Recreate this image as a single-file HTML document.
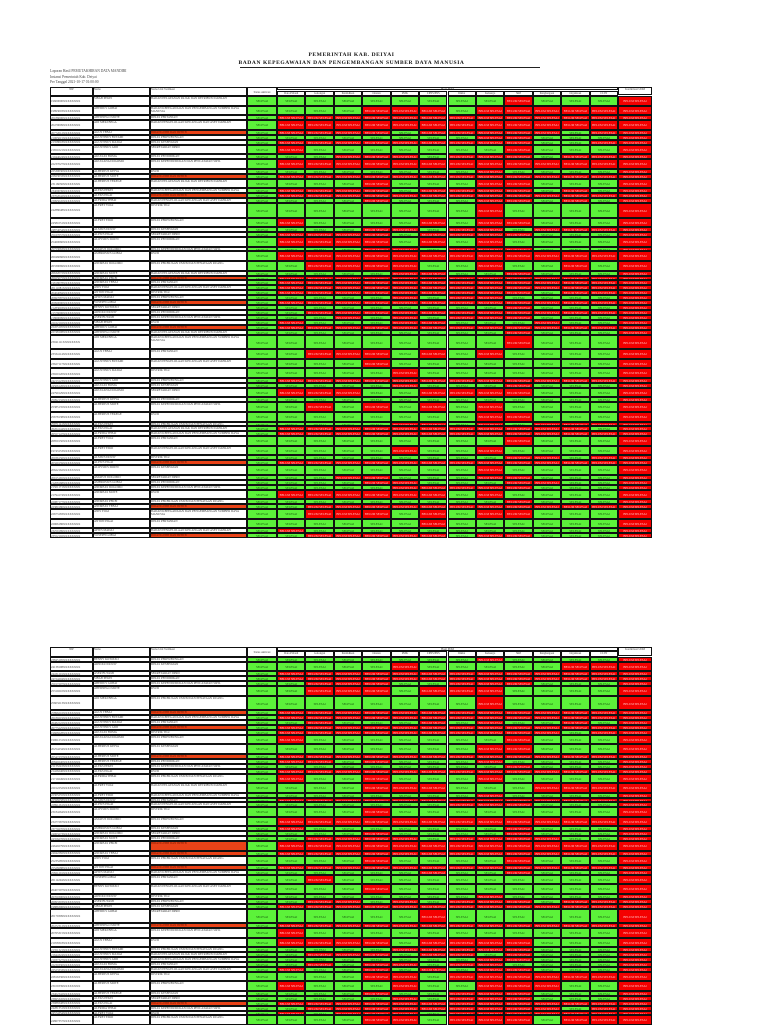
<!DOCTYPE html>
<html><head><meta charset="utf-8">
<style>
html,body{margin:0;padding:0;background:#fff;}
body{width:768px;height:1024px;overflow:hidden;position:relative;font-family:"Liberation Serif",serif;}
.a{position:absolute;box-sizing:border-box;}
.c{position:absolute;box-sizing:border-box;border:0.8px solid #111;overflow:hidden;font-size:3px;line-height:3.4px;color:#333;white-space:nowrap;}
.g{background:#5cf23a;color:#1a5a10;text-align:center;}
.r{background:#f40000;color:#ffc0c0;text-align:center;}
.o{background:#ea4318;color:#7a1a00;}
.w{background:#fff;color:#444;}
.h{background:#fff;text-align:center;font-size:2.8px;color:#444;}
.t{position:absolute;white-space:nowrap;}
</style></head>
<body>
<div class="t" style="left:0;width:703px;top:52px;text-align:center;font-weight:bold;font-size:5.5px;letter-spacing:0.6px;color:#111;">PEMERINTAH KAB. DEIYAI</div>
<div class="t" style="left:0;width:703px;top:60px;text-align:center;font-weight:bold;font-size:5.5px;letter-spacing:0.6px;color:#111;">BADAN KEPEGAWAIAN DAN PENGEMBANGAN SUMBER DAYA MANUSIA</div>
<div class="a" style="left:240px;top:67px;width:300px;height:0.7px;background:#222;"></div>
<div class="t" style="left:50px;top:69px;font-size:3.6px;color:#444;">Laporan Hasil PEMUTAKHIRAN DATA MANDIRI</div>
<div class="t" style="left:50px;top:74.5px;font-size:3.6px;color:#444;">Instansi Pemerintah Kab. Deiyai</div>
<div class="t" style="left:50px;top:80px;font-size:3.6px;color:#444;">Per Tanggal 2021-10-17 01:00:00</div>
<div id="root"></div>
<script>
const pdmCols = ["Data Pribadi","Golongan","Pendidikan","Jabatan","PMK","CPNS/PNS","Diklat","Keluarga","SKP","Penghargaan","Organisasi","CLTN"];
const rowLines1 = [2,2,1,2,1,1,1,2,1,2,1,1,2,1,1,1,3,2,1,1,2,1,2,2,1, 1,1,1,1,1,1,1,1,1,1,1,1, 3,2,2,2,1,1,2,1,2,2,1,1,1,2,2,1,1,2,1,1,1,2,1,1,2,2,1,1];
const rowStatus1 = ["GGGGGGGGRGGG","GGGRRRGRRRRR","RRRRRRRRRRRR","RRRRRRRRRRRR","RRRRGRRRRRGR","GGGGGGGRRGGG","RRRRRRRRRGGR","RGGGGGGGRGGG","GGRRRGRRRGRR","RRRRRRRRRRRR","GGGGGGGRGGGG","RRRRRRRRRRRR","GGGRGGGRRGGG","RRRRGRRRRGRG","RRRRRRRRRRRR","GGGRGGGRRGRG","GGGGGGGRGGGG","RGGGGRGRRGGG","GGGRRGRRGRRR","RRRRGRRRRGGG","RRRRGRGRGGGG","GGGRRGRRRGGG","RRRRRRRRRRRR","GRRRRGGRGGRG","GGGGRRGGRGGG","RRRRRRRRRRRR","RRRRRRRRRRRR","RRRRRRRRRRRR","RRRRRRRRRGRR","GGGGRGRRGGGG","RRRRRRRRRRRR","GGGGGGGGRGGG","GRRRRRRRRRRR","GGRGRGRRRGGG","RGGGRRGGGRGG","RRRRRRRRRRRR","GGGGGGGGRGGG","GGGGGGGGRGGG","GRRRGRGRGGGG","GGGRGGGGGGGG","GGGGRGGGGGGG","RRRRRRRRRRRR","GGGGRGGGRGGG","RRRGGRRRRGGG","GGGGGGGGGGGG","GRGRGRGRGGGG","GGGGGGGRRGGG","GGGGRRGRGRRR","RRRRRRRRRRRG","RRRRRRRRRRRR","GGGGGGGGRGGG","GGGGRGGRGGGG","GGGGGGGGRRGR","RRRRRRRRRRRR","GGGGGGGRGGGG","GGRRGGGRRGGG","GGGRRGGGRRGG","GGGGRRRRRGGG","RRRRRRGRGGGG","GGGGGGGGRGGG","GRRRRRRRRRRR","GRRRGRGRRGGG","GGGGGRGGGGGG","RGGGGGGGGGGG","GRRRRRGRRGGG"];
const orange1 = [4,11,14,25,30,35,53,60,64];
const rowLines2 = [1,2,1,1,1,2,3,1,1,1,1,1,2,2,1,1,1,1,2,2,1,1,1,2,2,1,1,1,2,1,2,1,1,2,2,1,1,1,3,1,2,2,1,1,1,1,1,2,2,1,1,1,1,1,2];
const rowStatus2 = ["GGGGGGGRGGGG","GGGGRGGGGGRR","RRRRRRRRRRRR","RRRRRRRRRRRR","GRRRGGRRRGGG","GRRRGRRRGGGG","GGGGGGGRGGGG","RRRRRRRRRRRR","RRRRRRRRRRRR","GRGGGRGRGGRG","RRRRRRRRRRRR","RRRRRRRRRRGR","RGGGGGGGRGGG","GGGGGGGRRGGG","RRRRRRRRRRRR","RRGRGGGRGGGG","GGGGGGGGRGGG","RRRRRRRRRRRR","RGGRGGGRGGGG","GGGRRRGGGRRR","GGGGGGGRGGGG","RRRRRRRRRRRR","GGGGGGRRRGGG","GGGRGGGGGGGG","RRRRRRRRRRRR","RGGGGGGGRGGG","GGGRGGGGRGGG","GRRRRGRRRRGG","RRRRRRRRRRRR","RRRRRRRRRRRR","GGGRGGGGRGGG","RRRRRRRRRRRR","GGGGGRGGRGGG","GRGGGGGGGGGG","GGGRGGGGGGGG","GGGGGGGRGGGG","GRRGRGRRRGRR","RRRRRRRRRRRR","GGGGGRGGGGGG","RRRRRRRRRRRR","RGGGGGGGGGGG","RRRRGRRRRGGG","GGGGRRRRRGGG","GRRRGRRGRGGG","GGGGGGGRRGGG","GRGRRGRRGGGG","RGGRGRGRRGGG","GGGRRGRRRRRR","RGGGRGGRRRGG","GGGRGGRRRGGG","GGGGRGRRRGGG","RRRRRRRRRRRR","GRRRRRRRRRGR","RGRRRGRRRRRR","GGGRRGRRRGRR"];
const orange2 = [7,10,14,28,29,31,39,51];
const names = ["SIBAB PEKEI","ABEDIUS GOBAI","ABEDNEGO MOTE","ADI MEKI BEGA","AGUS TEBAI","AGUSTINUS BUTAMI","AGUSTINUS MADAI","AGUSTINUS ADII","AKULIAS BOMA","AKULIANA DOGOMO","ALBERTUS KEIYA","ALBERTUS MOTE","ALBERTUS TEKEGE","ALEKS PEKEI","ALEKS PIGAI","ALFRIDA TEBAI","ALFRET YOGI","ALFRET EDOI","ALMIUS DOUW","ALPIUS PIGAI","ALOYSIUS DOUW","AMATUS DOGOMO","AMBROSIUS GOBAI","ANDREAS DOGOMO","ANDREAS MOTE","ANDREAS PEKEI","ANDREAS TEBAI","ANIS YOGI","ANTON PIGAI","APIUS MADAI","YOSEPH GOBAI","BENNY KOTOUKI","ARNOLD DOUW","ASER BUTAMI"];
const units = ["BADAN PELAYANAN PAJAK DAN RETRIBUSI DAERAH","BADAN KEPEGAWAIAN DAN PENGEMBANGAN SUMBER DAYA MANUSIA","DINAS PERTANIAN","BADAN PENGELOLAAN KEUANGAN DAN ASET DAERAH","DISTRIK TIGI","DINAS PERHUBUNGAN","DINAS KESEHATAN","SEKRETARIAT DPRD","DINAS PENDIDIKAN","DINAS KEPENDUDUKAN DAN PENCATATAN SIPIL","RSUD","DINAS PEKERJAAN UMUM DAN PENATAAN RUANG"];
const root = document.getElementById('root');
const colX = [50,93,150,247,277];
const pdmW = (618-277)/12;
for(let i=0;i<12;i++) colX.push(277+pdmW*(i+1));
colX.push(652);
function box(x,y,w,h,cls,text){
  const d=document.createElement('div');
  d.className='c '+cls;
  d.style.left=x+'px';d.style.top=y+'px';d.style.width=w+'px';d.style.height=h+'px';
  if(text) d.textContent=text;
  root.appendChild(d);
  return d;
}
function header(top,h){
  const hh=h;
  let d=box(colX[0],top,colX[1]-colX[0],hh,'h','NIP');
  
  
  d=box(colX[1],top,colX[2]-colX[1],hh,'h','Nama');
  d.style.textAlign='left';
  
  
  d=box(colX[2],top,colX[3]-colX[2],hh,'h','Nama Unit Verifikasi');
  d.style.textAlign='left';
  
  
  d=box(colX[3],top,colX[4]-colX[3],hh,'h','Status Aktivasi');
  d.style.lineHeight=hh+'px';
  
  
  d=box(colX[4],top,colX[16]-colX[4],hh*0.4,'h','Hasil PDM');
  
  
  for(let i=0;i<12;i++){
    d=box(colX[4+i],top+hh*0.4,colX[5+i]-colX[4+i],hh*0.6,'h',pdmCols[i]);
    
    
  }
  d=box(colX[16],top,colX[17]-colX[16],hh*0.85,'h','Konfirmasi UDM');
  
  
}
function page(top,bottom,lines,stats,orange,offset){
  const w=lines.map(l=>l===1?1:(l===2?1.95:3));
  const tot=w.reduce((a,b)=>a+b,0);
  const u=(bottom-top)/tot;
  let y=top;
  lines.forEach((l,i)=>{
    const h=w[i]*u;
    const k=i+offset;
    const nip=(19600000+((k*7919)%200000)*37%9999999).toString().slice(0,8)+'XXXXXXXX';
    let d=box(colX[0],y,colX[1]-colX[0],h,'w',nip);
    d.style.paddingTop=Math.max(0,(h-3.4)/2)+'px';
    
    
    d=box(colX[1],y,colX[2]-colX[1],h,'w',names[k%names.length]);
    
    
    const isO=orange.indexOf(i)>=0;
    d=box(colX[2],y,colX[3]-colX[2],h,isO?'o':'w',isO?'BIDANG PBB DAN BPHTB':units[k%units.length]);
    d.style.whiteSpace='normal';
    
    
    d=box(colX[3],y,colX[4]-colX[3],h,'g','SELESAI');
    d.style.lineHeight=h+'px';
    
    
    const s=stats[i]||'GGGGGGGGGGGG';
    for(let j=0;j<12;j++){
      const ok=s[j]==='G';
      d=box(colX[4+j],y,colX[5+j]-colX[4+j],h,ok?'g':'r',ok?'SELESAI':'BELUM SELESAI');
      d.style.lineHeight=h+'px';
      
      
    }
    d=box(colX[16],y,colX[17]-colX[16],h,'r','BELUM SELESAI');
    d.style.lineHeight=h+'px';
    
    
    y+=h;
  });
}
header(86.7,9.5);
page(96.2,538,rowLines1,rowStatus1,orange1,0);
header(647,10);
page(657,1025,rowLines2,rowStatus2,orange2,65);
</script>
</body></html>
